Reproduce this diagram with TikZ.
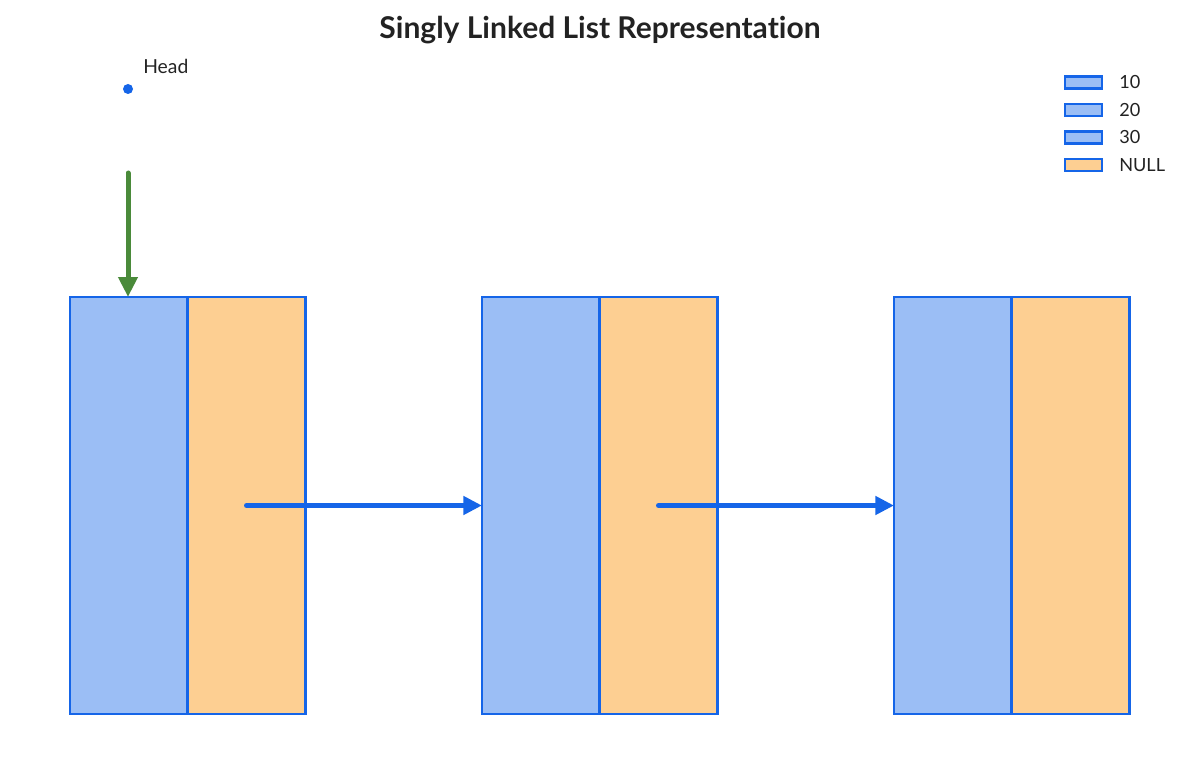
\documentclass[tikz,border=0pt]{standalone}
\usepackage{fontspec}
\setmainfont{Lato}[Ligatures={NoCommon}]
\usetikzlibrary{arrows.meta}
\definecolor{bdr}{HTML}{1565E8}
\definecolor{datafill}{HTML}{9BBEF5}
\definecolor{nextfill}{HTML}{FDCF92}
\definecolor{headgreen}{HTML}{4A8A3A}
\definecolor{txt}{HTML}{222222}
\tikzset{
  cell/.style={draw=bdr, line width=1.7pt, minimum width=88.5pt, minimum height=312.75pt, inner sep=0pt, outer sep=0pt},
  datacell/.style={cell, fill=datafill},
  nextcell/.style={cell, fill=nextfill},
  link/.style={draw=bdr, line width=3.75pt, line cap=round, -{Triangle[length=14pt,width=13.5pt]}},
  headarrow/.style={draw=headgreen, line width=3.75pt, line cap=round, -{Triangle[length=15pt,width=14pt]}},
  patch/.style={draw=bdr, line width=1.7pt, minimum width=28pt, minimum height=9pt, inner sep=0pt},
  legtext/.style={anchor=west, inner sep=0pt, font=\fontsize{13.6}{16}\selectfont, text=txt},
}
\begin{document}
\begin{tikzpicture}[x=0.75pt,y=-0.75pt]
\useasboundingbox (0,0) rectangle (1200,763);
% title
\node[font=\fontsize{22.5}{26}\selectfont\bfseries, text=txt] (title) at (600,30.5) {Singly Linked List Representation};
% nodes
\node[datacell] (d1) at (129,505.5) {};
\node[nextcell] (n1) at (246.5,505.5) {};
\node[datacell] (d2) at (541,505.5) {};
\node[nextcell] (n2) at (658.5,505.5) {};
\node[datacell] (d3) at (953,505.5) {};
\node[nextcell] (n3) at (1070.5,505.5) {};
% links
\draw[link] (n1.center) -- (d2.west);
\draw[link] (n2.center) -- (d3.west);
% borders on top
\foreach \c in {d1,n1,d2,n2,d3,n3}{
  \draw[bdr, line width=1.7pt] (\c.north west) rectangle (\c.south east);
}
% head
\node[circle, fill=bdr, minimum size=7.5pt, inner sep=0pt] (hd) at (128,89) {};
\node[anchor=west, inner sep=0pt, font=\fontsize{14.5}{17}\selectfont, text=txt] (hl) at (143,66) {Head};
\coordinate (hs) at (128,173);
\draw[headarrow] (hs) -- (hs |- d1.north);
% legend
\node[patch, fill=datafill] (l1) at (1083.5,82.5) {};
\node[patch, fill=datafill] (l2) at (1083.5,110) {};
\node[patch, fill=datafill] (l3) at (1083.5,137.5) {};
\node[patch, fill=nextfill] (l4) at (1083.5,165) {};
\node[legtext] (t1) at (1119,82.5) {10};
\node[legtext] (t2) at (1119,110) {20};
\node[legtext] (t3) at (1119,137.5) {30};
\node[legtext] (t4) at (1119,165) {NULL};
\end{tikzpicture}
\end{document}
